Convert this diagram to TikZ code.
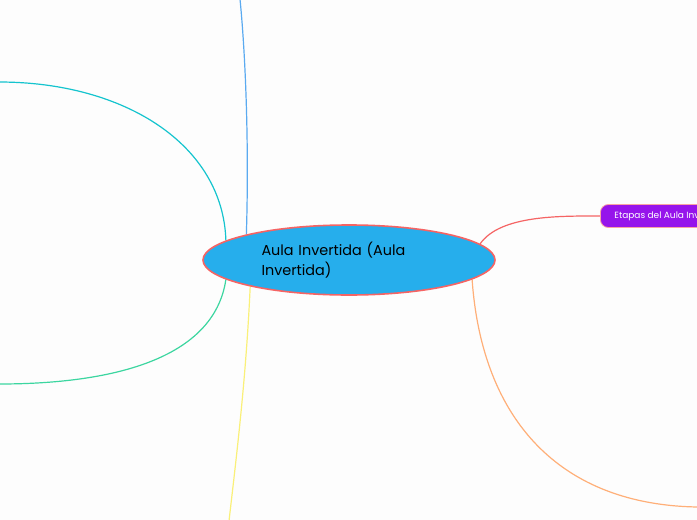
\documentclass[tikz,border=0pt]{standalone}
\usepackage{fontspec}
\setmainfont{Poppins}
\usetikzlibrary{backgrounds,shapes.geometric}
\definecolor{cblue}{RGB}{90,170,240}
\definecolor{cteal}{RGB}{20,196,206}
\definecolor{cgreen}{RGB}{60,214,160}
\definecolor{cyellow}{RGB}{250,240,120}
\definecolor{cred}{RGB}{245,100,100}
\definecolor{corange}{RGB}{255,175,120}
\definecolor{cfill}{RGB}{38,174,236}
\definecolor{cpurple}{RGB}{150,20,235}
\definecolor{cbg}{RGB}{253,253,253}
\begin{document}
\begin{tikzpicture}[x=1pt,y=-1pt,
  conn/.style={line width=1.2pt},
  central/.style={ellipse, draw=cred, line width=1.6pt, fill=cfill,
    minimum width=292pt, minimum height=70pt, inner sep=0pt,
    text width=175pt, align=left, font=\fontsize{14.4}{20}\selectfont, text=black},
  topic/.style={rectangle, rounded corners=8pt, draw=cred!60, line width=0.8pt, fill=cpurple,
    text=white, font=\fontsize{9}{11}\selectfont, minimum height=23pt, inner xsep=14pt, inner ysep=0pt, anchor=west}
]
\useasboundingbox (0,0) rectangle (697,520);
\begin{scope}
\clip (0,0) rectangle (697,520);
\node[central] (c) at (349,260) {Aula Invertida (Aula\\Invertida)};
\node[topic] (p) at (600,216) {Etapas del Aula Invertida};
\coordinate (topend) at (240,-1);
\coordinate (ulend) at (-1,82);
\coordinate (llend) at (-1,384);
\coordinate (botend) at (229,521);
\coordinate (orend) at (698,507);
\begin{scope}[on background layer]
\fill[cbg] (0,0) rectangle (697,520);
\draw[conn, cblue] (c.166) .. controls (249,150) and (246,60) .. (topend);
\draw[conn, cteal] (c.171) .. controls (223,145) and (125,82) .. (ulend);
\draw[conn, cgreen] (c.189) .. controls (214,360) and (110,384) .. (llend);
\draw[conn, cyellow] (c.195) .. controls (246,380) and (236,460) .. (botend);
\draw[conn, cred] (c.7) .. controls (500,215) and (560,216) .. (p.west);
\draw[conn, corange] (c.-9) .. controls (482,420) and (560,505) .. (orend);
\end{scope}
\end{scope}
\end{tikzpicture}
\end{document}
